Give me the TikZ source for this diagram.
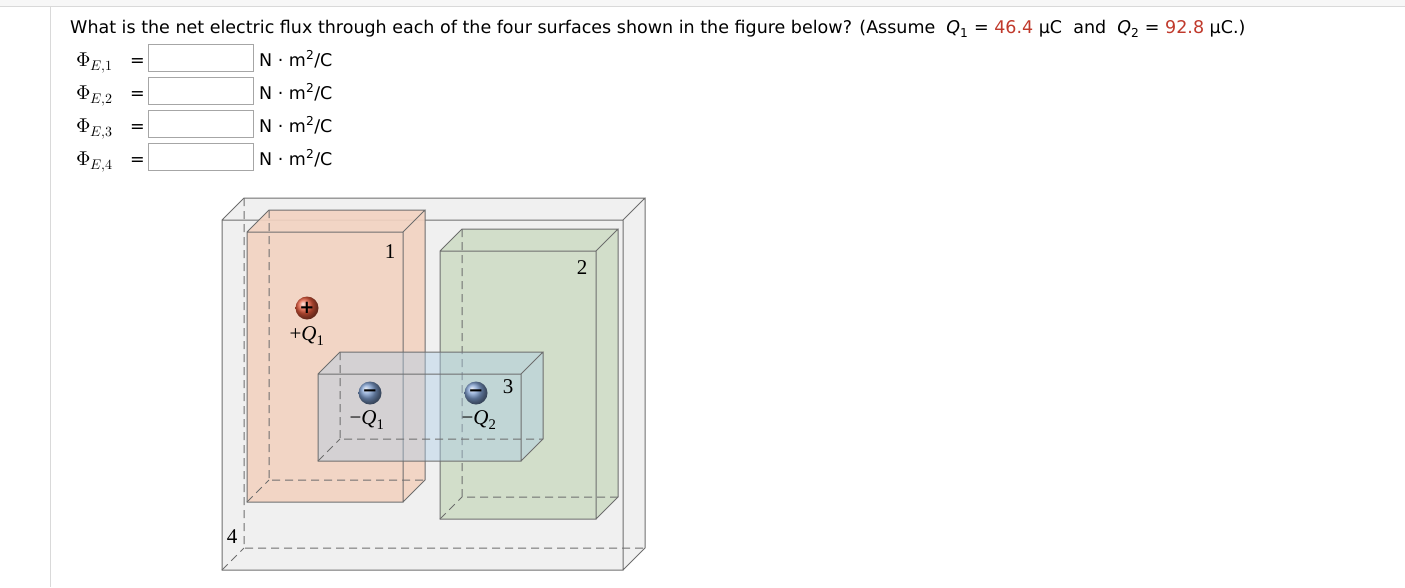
\documentclass[tikz,border=0pt]{standalone}
\usepackage{fontspec}
\setmainfont{DejaVu Sans}
\newfontfamily\fig{Liberation Serif}
\usepackage{unicode-math}
\definecolor{ans}{HTML}{C0392B}
\definecolor{edge}{HTML}{6E6E6E}
\definecolor{peach}{HTML}{F3D3C1}
\definecolor{sage}{HTML}{CFDDC6}
\definecolor{sky}{HTML}{A9CCE8}
\definecolor{redball}{HTML}{E65A3C}
\definecolor{blueball}{HTML}{7F9FD0}
\newcommand\cub[5]{% x1,y1,x2,y2,colour/opacity
  \fill[#5] (#1,#2) rectangle (#3,#4);
  \fill[#5] (#1,#2)--++(22,-22)--(#3+22,#2-22)--(#3,#2)--cycle;
  \fill[#5] (#3,#2)--++(22,-22)--(#3+22,#4-22)--(#3,#4)--cycle;
  \draw[hid] (#1+22,#2-22)--(#1+22,#4-22)--(#3+22,#4-22) (#1,#4)--(#1+22,#4-22);
  \draw[vis] (#1,#2) rectangle (#3,#4) (#1,#2)--++(22,-22)--(#3+22,#2-22)--(#3,#2)
     (#3+22,#2-22)--(#3+22,#4-22)--(#3,#4);}
\begin{document}
\begin{tikzpicture}[x=1pt,y=-1pt,
  vis/.style={draw=edge,line width=1pt},
  hid/.style={draw=edge,line width=1pt,dash pattern=on 8pt off 5pt},
  txt/.style={inner sep=0pt,anchor=base west,font=\fontsize{17.5}{20}\selectfont},
  ansbox/.style={draw=gray!70,minimum width=105pt,minimum height=27pt,inner sep=0pt,anchor=north west},
  lab/.style={inner sep=0pt,font=\fig\fontsize{21}{24}\selectfont},
  poscharge/.style={circle,minimum size=23pt,inner sep=0pt,ball color=redball,text=black,font=\bfseries\fontsize{18}{18}\selectfont},
  negcharge/.style={circle,minimum size=23pt,inner sep=0pt,ball color=blueball,text=black,font=\bfseries\fontsize{18}{18}\selectfont}]
\useasboundingbox (0,0) rectangle (1405,587);
\fill[gray!6] (0,0) rectangle (1405,6);
\draw[gray!30,line width=0.8pt] (0,6)--(1405,6) (50,6)--(50,587);
\node[txt] (q) at (70,33) {What is the net electric flux through each of the four surfaces shown in the figure below? (Assume \ \textit{Q}\textsubscript{1} = \textcolor{ans}{46.4} µC \ and \ \textit{Q}\textsubscript{2} = \textcolor{ans}{92.8} µC.)};
\foreach \i in {1,2,3,4}{
  \node[txt,anchor=base west,font=\fontsize{20}{22}\selectfont] (p\i) at (76,{33+33*\i}) {$\Phi_{E,\i}$};
  \node[txt] (e\i) at (130,{33+33*\i}) {=};
  \node[ansbox] (b\i) at (148,{11+33*\i}) {};
  \node[txt] (u\i) at (259,{33+33*\i}) {N · m\textsuperscript{2}/C};
}
\cub{222}{220}{623}{570}{gray!12}
\cub{247}{232}{403}{502}{peach,opacity=0.9}
\cub{440}{251}{596}{519}{sage,opacity=0.9}
\cub{318}{374}{521}{461}{sky,opacity=0.4}
\node[poscharge] (c1) at (307,308) {+};
\node[negcharge] (c2) at (370,393) {−};
\node[negcharge] (c3) at (476,393) {−};
\node[lab] (l1) at (307,336) {+\textit{Q}\textsubscript{1}};
\node[lab] (l2) at (367,420) {−\textit{Q}\textsubscript{1}};
\node[lab] (l3) at (479,420) {−\textit{Q}\textsubscript{2}};
\node[lab] (n1) at (390,252) {1};
\node[lab] (n2) at (582,268) {2};
\node[lab] (n3) at (508,387) {3};
\node[lab] (n4) at (232,537) {4};
\end{tikzpicture}
\end{document}
